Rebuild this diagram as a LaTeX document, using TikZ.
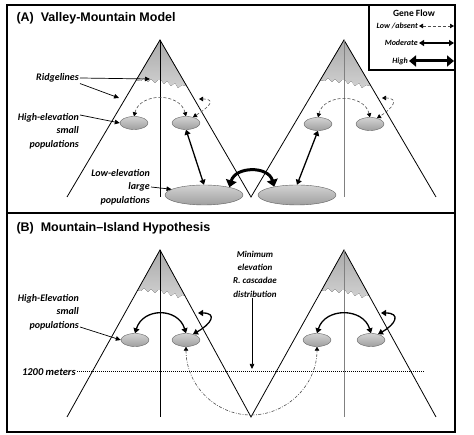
\documentclass[tikz,border=0pt]{standalone}
\usepackage{fontspec}
\setmainfont{Carlito}
\newfontfamily\titlefont{Liberation Sans}
\usetikzlibrary{positioning,shapes.geometric,arrows.meta}

\begin{document}
\begin{tikzpicture}[x=1pt, y=1pt,
	pop/.style={ellipse, draw=gray!75!black, top color=gray!35, bottom color=gray!75,
	minimum width=28pt, minimum height=13pt, inner sep=0pt},
	bigpop/.style={pop, minimum width=78pt, minimum height=20pt},
	snow/.style={top color=gray!70, bottom color=gray!35},
	ridge/.style={line width=0.8pt},
	ttl/.style={font=\titlefont\bfseries\fontsize{12.5}{15}\selectfont, anchor=west},
	lbl/.style={font=\bfseries\itshape\fontsize{10}{13.5}\selectfont, align=right, inner sep=1pt},
	lgd/.style={font=\bfseries\itshape\fontsize{8}{10}\selectfont, inner sep=1pt},
	ptr/.style={line width=0.7pt, -{Triangle[length=5pt,width=4.5pt]}},
	lowflow/.style={densely dashed, draw=gray!60!black, line width=0.6pt,
	{Triangle[length=4pt,width=4.5pt,color=black]}-{Triangle[length=4pt,width=4.5pt,color=black]}},
	dashflow/.style={dash pattern=on 3pt off 1.5pt on 0.8pt off 1.5pt, draw=gray!60!black, line width=0.6pt,
	{Triangle[length=4pt,width=4.5pt,color=black]}-{Triangle[length=4pt,width=4.5pt,color=black]}},
	modflow/.style={line width=1.3pt, {Triangle[length=5pt,width=6pt]}-{Triangle[length=5pt,width=6pt]}},
	highflow/.style={line width=3pt, {Triangle[length=7pt,width=11pt]}-{Triangle[length=7pt,width=11pt]}},
	levelline/.style={densely dotted, line width=1pt}
	]
	\useasboundingbox (0,0) rectangle (474,435);
	
	% mountains
	\coordinate (baseA1) at (67,238);
	\coordinate (pkA1) at (160,395);
	\coordinate (valA) at (251,238);
	\coordinate (pkA2) at (344,395);
	\coordinate (baseA2) at (436,238);
	\coordinate (baseB1) at (67,18);
	\coordinate (pkB1) at (160,185);
	\coordinate (valB) at (251,18);
	\coordinate (pkB2) at (344,185);
	\coordinate (baseB2) at (436,18);
	
	% snow caps
	\foreach \p/\l/\r in {pkA1/baseA1/valA, pkA2/valA/baseA2, pkB1/baseB1/valB, pkB2/valB/baseB2} {
		\begin{scope}
			\clip (\l) -- (\p) -- (\r) -- cycle;
			\fill[snow, shift={(\p)}] (0,5) -- (-40,-38) -- (-19,-41) -- (-16,-38) -- (-12,-42)
			-- (-9,-39) -- (-5,-43) -- (-2,-40) -- (1,-40) -- (4,-44) -- (7,-41) -- (11,-46)
			-- (15,-43) -- (18,-48) -- (22,-45) -- (45,-50) -- cycle;
		\end{scope}
	}
	
	\draw[ridge] (baseA1) -- (pkA1) -- (valA) -- (pkA2) -- (baseA2);
	\draw[ridge] (pkA1) -- (pkA1 |- valA);
	\draw[ridge, gray] (pkA2) -- (pkA2 |- valA);
	\draw[ridge] (baseB1) -- (pkB1) -- (valB) -- (pkB2) -- (baseB2);
	\draw[ridge] (pkB1) -- (pkB1 |- valB);
	\draw[ridge, gray] (pkB2) -- (pkB2 |- valB);
	
	% frame
	\draw[line width=1.6pt] (7,3) rectangle (455,430);
	\draw[line width=1.6pt] (7,222) -- (455,222);
	
	% (A)
	\node[ttl] (titleA) at (13,417) {(A)\ \ Valley-Mountain Model};
	
	\node[pop] (popA1) at (134,312) {};
	\node[pop] (popA2) at (186,312) {};
	\node[pop] (popA3) at (318,311) {};
	\node[pop] (popA4) at (370,311) {};
	\node[bigpop] (bigA1) at (204,240) {};
	\node[bigpop] (bigA2) at (297,240) {};
	
	\draw[lowflow] (popA1.north) .. controls +(6,24) and +(-6,24) .. (popA2.north);
	\draw[lowflow] (popA3.north) .. controls +(6,24) and +(-6,24) .. (popA4.north);
	\coordinate (rimA2) at (199,336);
	\coordinate (rimA4) at (382,337);
	\draw[lowflow] (rimA2) .. controls +(18,0) and +(16,10) .. (popA2.40);
	\draw[lowflow] (rimA4) .. controls +(18,0) and +(16,10) .. (popA4.40);
	\draw[modflow] (popA2.south) -- (bigA1.north);
	\draw[modflow] (popA3.south) -- (bigA2.north);
	\draw[highflow] (bigA1.17) .. controls +(6,21) and +(-6,21) .. (bigA2.160);
	
	\node[lbl, anchor=east] (ridgetxt) at (80,357) {Ridgelines};
	\coordinate (ridgeA) at (150,356);
	\coordinate (slopeA) at (119,337);
	\draw[ptr] (ridgetxt.east) -- (ridgeA);
	\draw[ptr] (ridgetxt.south east) -- (slopeA);
	
	\node[lbl, anchor=east] (hiAtxt) at (80,304) {High-elevation\\small\\populations};
	\draw[ptr] ([yshift=-3pt]hiAtxt.north east) -- (popA1.west);
	
	\node[lbl, anchor=east] (loAtxt) at (151,248) {Low-elevation\\large\\populations};
	\draw[ptr] (loAtxt.east) -- (bigA1.170);
	
	% legend
	\draw[line width=1.2pt] (369,430) rectangle (455,365);
	\node[font=\bfseries\fontsize{9.5}{11}\selectfont] (gftxt) at (414,422) {Gene Flow};
	\node[lgd, anchor=east] (lowtxt) at (419,409) {Low /absent};
	\node[lgd, anchor=east] (modtxt) at (419,392) {Moderate};
	\node[lgd, anchor=east] (hightxt) at (409,374) {High};
	\coordinate (lowend) at (454,409);
	\coordinate (modend) at (454,392);
	\coordinate (highend) at (454,374);
	\draw[lowflow] (lowtxt.east) -- (lowend);
	\draw[modflow] (modtxt.east) -- (modend);
	\draw[highflow] (hightxt.east) -- (highend);
	
	% (B)
	\node[ttl] (titleB) at (13,207) {(B)\ \ Mountain–Island Hypothesis};
	
	\node[pop] (popB1) at (135,95) {};
	\node[pop] (popB2) at (186,95) {};
	\node[pop] (popB3) at (317,95) {};
	\node[pop] (popB4) at (371,95) {};
	
	\draw[modflow] (popB1.north) .. controls +(8,26) and +(-8,26) .. (popB2.north);
	\draw[modflow] (popB3.north) .. controls +(8,26) and +(-8,26) .. (popB4.north);
	\coordinate (rimB2) at (198,122);
	\coordinate (rimB4) at (381,122);
	\draw[modflow] (rimB2) .. controls +(20,0) and +(18,10) .. (popB2.40);
	\draw[modflow] (rimB4) .. controls +(20,0) and +(18,10) .. (popB4.40);
	\coordinate (dipB) at (251,20);
	\draw[dashflow] (popB2.south) .. controls +(0,-38) and +(-36,0) .. (dipB)
	.. controls +(36,0) and +(0,-38) .. (popB3.south);
	
	\node[lbl, anchor=east] (hiBtxt) at (80,123) {High-Elevation\\small\\populations};
	\draw[ptr] ([yshift=4pt]hiBtxt.south east) -- (popB1.west);
	
	\node[lbl, anchor=east, font=\bfseries\itshape\fontsize{10.5}{12}\selectfont] (mtrtxt) at (77,63) {1200 meters};
	\coordinate (mtrend) at (424,63);
	\draw[levelline] (mtrtxt.east) -- (mtrend);
	
	\node[lbl, align=center, font=\bfseries\itshape\fontsize{9}{13.3}\selectfont] (mintxt) at (255,161)
	{Minimum\\elevation\\R. cascadae\\distribution};
	\coordinate (minpt) at (252,66);
	\draw[ptr] (mintxt.south -| minpt) -- (minpt);
\end{tikzpicture}
\end{document}
